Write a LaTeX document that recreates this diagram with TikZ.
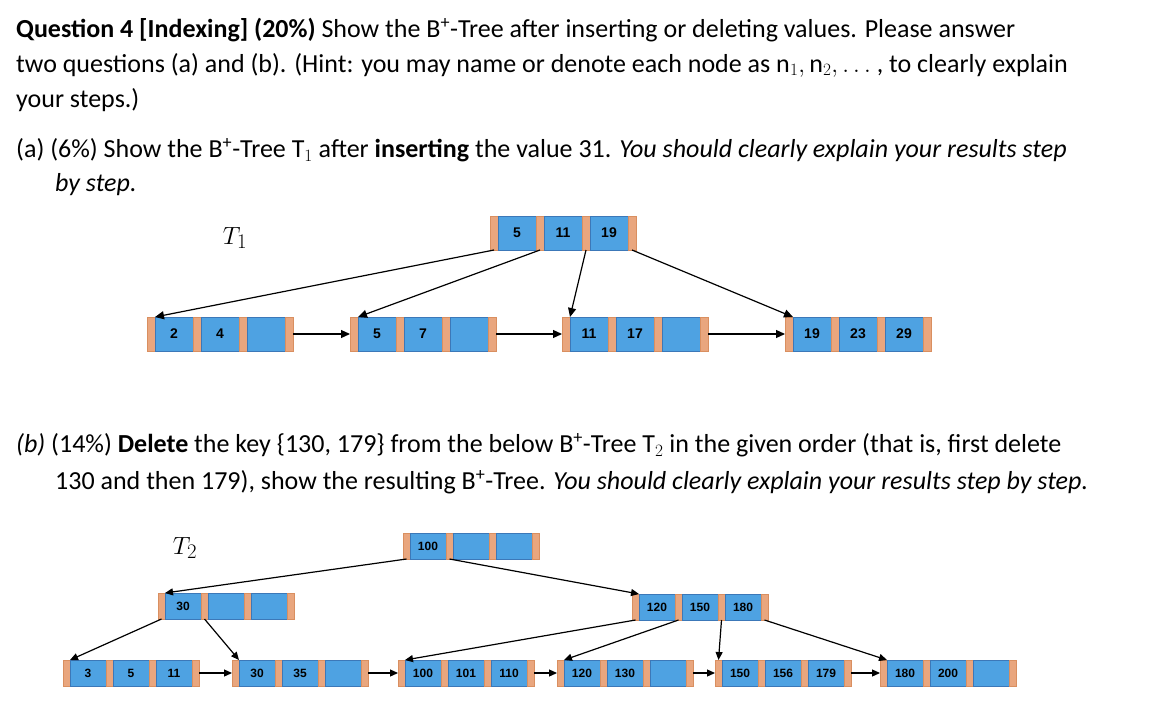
\documentclass[tikz,border=0pt]{standalone}
\usepackage{fontspec}
\setmainfont{Carlito}
\newfontfamily\keyfont{Liberation Sans}
\usetikzlibrary{arrows.meta}
\definecolor{cellblue}{HTML}{4EA2E2}
\definecolor{cellborder}{HTML}{3C78B8}
\definecolor{stripor}{HTML}{E9A67E}
\definecolor{stripborder}{HTML}{D98F60}
\tikzset{
  cell/.style={draw=cellborder, fill=cellblue, line width=0.5pt, inner sep=0pt, outer sep=0pt, anchor=north west, font=\keyfont\bfseries\fontsize{14}{16}\selectfont},
  strip/.style={draw=stripborder, fill=stripor, line width=0.5pt, inner sep=0pt, outer sep=0pt, anchor=north west},
  ptr/.style={-{Triangle[length=9pt,width=8pt]}, line width=1.2pt, black},
  line/.style={anchor=west, inner sep=0pt, font=\fontsize{26}{30}\selectfont}
}
% #1 name #2 x #3 y #4 cell w #5 strip w #6 h #7 #8 #9 keys
\newcommand\btnode[9]{%
  \node[strip, minimum width=#5pt, minimum height=#6pt] (#1s1) at (#2,#3) {};
  \node[cell, minimum width=#4pt, minimum height=#6pt] (#1c1) at (#1s1.north east) {#7};
  \node[strip, minimum width=#5pt, minimum height=#6pt] (#1s2) at (#1c1.north east) {};
  \node[cell, minimum width=#4pt, minimum height=#6pt] (#1c2) at (#1s2.north east) {#8};
  \node[strip, minimum width=#5pt, minimum height=#6pt] (#1s3) at (#1c2.north east) {};
  \node[cell, minimum width=#4pt, minimum height=#6pt] (#1c3) at (#1s3.north east) {#9};
  \node[strip, minimum width=#5pt, minimum height=#6pt] (#1s4) at (#1c3.north east) {};
}
\begin{document}
\begin{tikzpicture}[x=1pt,y=-1pt]
\useasboundingbox[fill=white] (0,0) rectangle (1150,712);
% text
\node[line] (l1) at (16,30) {\textbf{Question 4 [Indexing] (20\%)} Show the B\textsuperscript{+}-Tree after inserting or deleting values. Please answer};
\node[line] (l2) at (16,65) {two questions (a) and (b). (Hint: you may name or denote each node as $\mathrm{n}_1,\mathrm{n}_2,\ldots$ , to clearly explain};
\node[line] (l3) at (16,100) {your steps.)};
\node[line] (l4) at (16,150) {(a) (6\%) Show the B\textsuperscript{+}-Tree $\mathrm{T}_1$ after \textbf{inserting} the value 31. \textit{You should clearly explain your results step}};
\node[line] (l5) at (55,185) {\textit{by step.}};
\node[line] (l6) at (16,445) {\textit{(b)} (14\%) \textbf{Delete} the key \{130, 179\} from the below B\textsuperscript{+}-Tree $\mathrm{T}_2$ in the given order (that is, first delete};
\node[line] (l7) at (55,482) {130 and then 179), show the resulting B\textsuperscript{+}-Tree. \textit{You should clearly explain your results step by step.}};
\node[font=\fontsize{32}{34}\selectfont] (t1) at (235,238) {$T_1$};
\node[font=\fontsize{32}{34}\selectfont] (t2) at (185,548) {$T_2$};
% T1
\btnode{r}{490}{216}{38}{8}{34}{5}{11}{19}
\btnode{a}{147}{317}{38}{8}{34}{2}{4}{}
\btnode{b}{350}{317}{38}{8}{34}{5}{7}{}
\btnode{c}{562}{317}{38}{8}{34}{11}{17}{}
\btnode{d}{785}{317}{38}{8}{34}{19}{23}{29}
\draw[ptr] (rs1.south) -- (ac1.north west);
\draw[ptr] (rs2.south) -- (bc1.north west);
\draw[ptr] (rs3.south) -- (cc1.north west);
\draw[ptr] (rs4.south) -- (dc1.north west);
\draw[ptr] (as4.east) -- (bs1.west);
\draw[ptr] (bs4.east) -- (cs1.west);
\draw[ptr] (cs4.east) -- (ds1.west);
% T2
\tikzset{cell/.append style={font=\keyfont\bfseries\fontsize{12}{14}\selectfont}}
\btnode{R}{403}{533}{36}{7}{26}{100}{}{}
\btnode{P}{158}{593}{36}{7}{26}{30}{}{}
\btnode{Q}{632}{594}{36}{7}{26}{120}{150}{180}
\btnode{A}{63}{660}{36}{7}{26}{3}{5}{11}
\btnode{B}{232}{660}{36}{7}{26}{30}{35}{}
\btnode{C}{398}{660}{36}{7}{26}{100}{101}{110}
\btnode{D}{557}{660}{36}{7}{26}{120}{130}{}
\btnode{E}{715}{660}{36}{7}{26}{150}{156}{179}
\btnode{F}{880}{660}{36}{7}{26}{180}{200}{}
\tikzset{ptr/.append style={-{Triangle[length=8pt,width=7pt]}}}
\draw[ptr] (Rs1.south) -- (Pc1.north west);
\draw[ptr] (Rs2.south) -- (Qc1.north west);
\draw[ptr] (Ps1.south) -- (Ac1.north west);
\draw[ptr] (Ps2.south) -- (Bc1.north west);
\draw[ptr] (Qs1.south) -- (Cc1.north west);
\draw[ptr] (Qs2.south) -- (Dc1.north west);
\draw[ptr] (Qs3.south) -- (Es1.north);
\draw[ptr] (Qs4.south) -- (Fc1.north west);
\draw[ptr] (As4.east) -- (Bs1.west);
\draw[ptr] (Bs4.east) -- (Cs1.west);
\draw[ptr] (Cs4.east) -- (Ds1.west);
\draw[ptr] (Ds4.east) -- (Es1.west);
\draw[ptr] (Es4.east) -- (Fs1.west);
\end{tikzpicture}
\end{document}
